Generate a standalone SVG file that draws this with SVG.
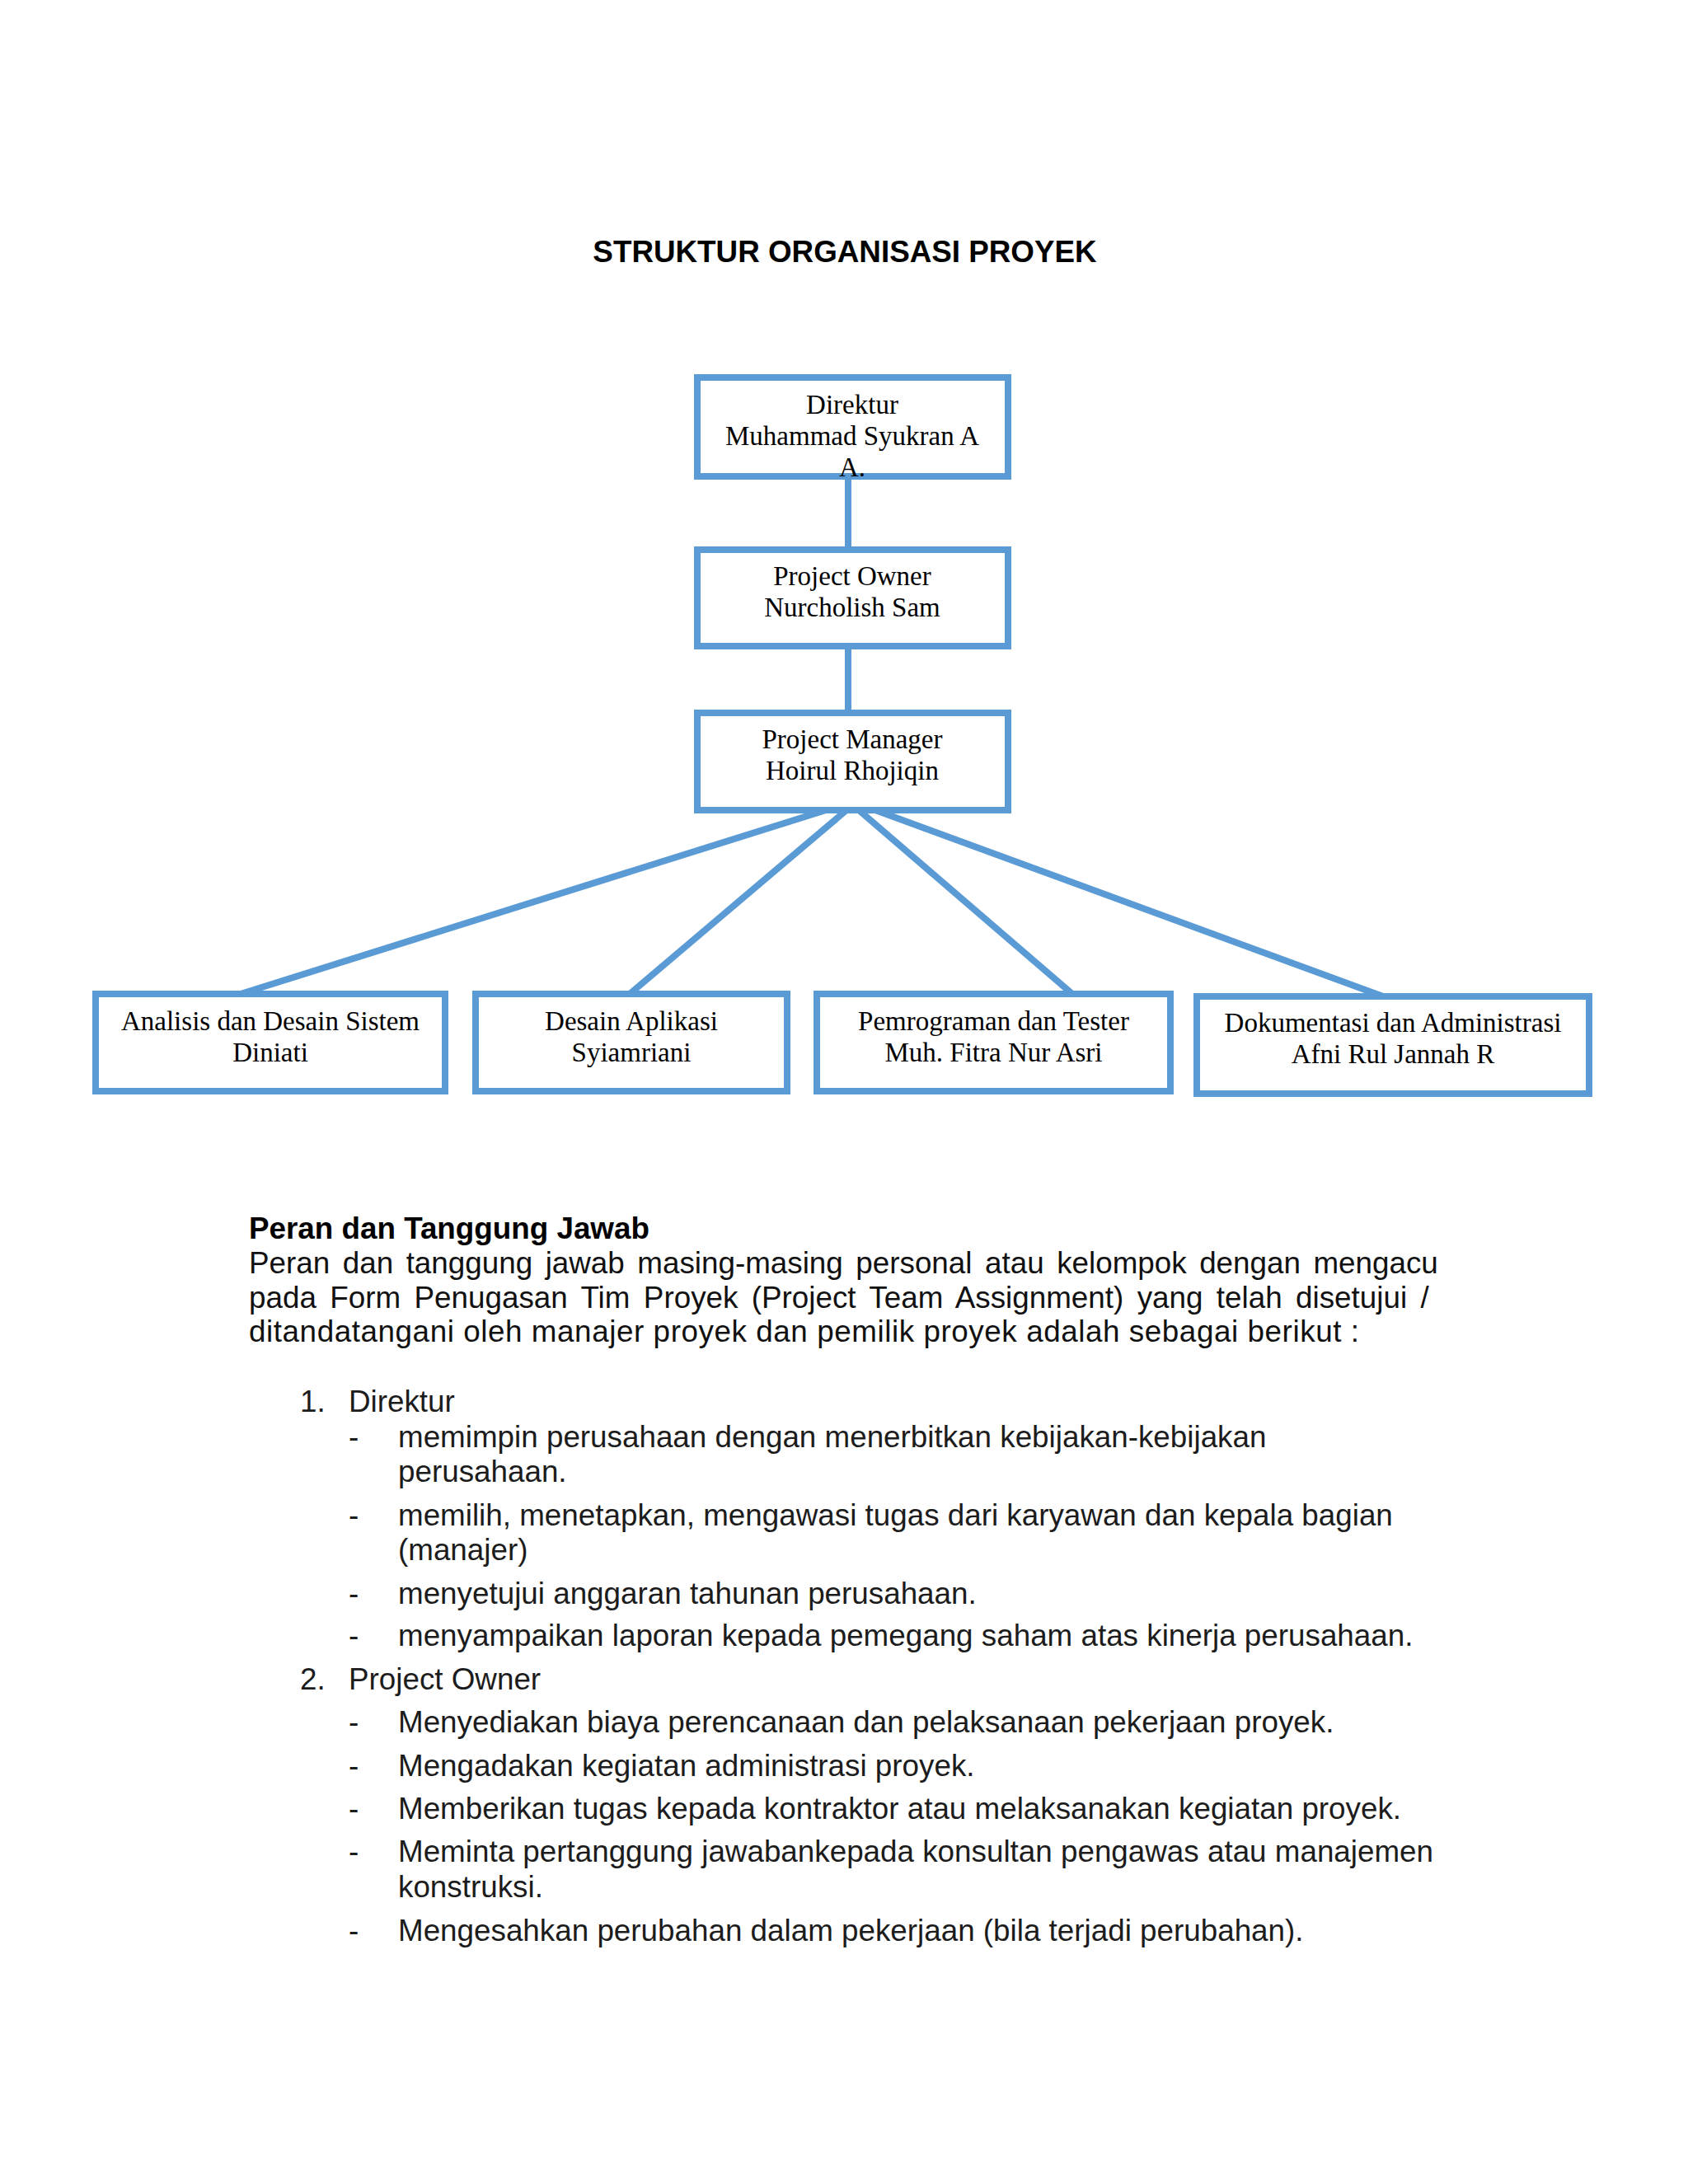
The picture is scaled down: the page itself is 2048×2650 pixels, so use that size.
<svg xmlns="http://www.w3.org/2000/svg" width="2048" height="2650" viewBox="0 0 2048 2650">
<style>
.box{fill:#ffffff;stroke:#5B9BD5;stroke-width:8}
.con{stroke:#5B9BD5;stroke-width:8;fill:none}
.bt{font-family:"Liberation Serif","Times New Roman",serif;font-size:33px;fill:#000;text-anchor:middle}
.title{font-family:"Liberation Sans",Arial,sans-serif;font-size:36.8px;font-weight:bold;fill:#000;text-anchor:middle}
.h{font-family:"Liberation Sans",Arial,sans-serif;font-size:36.8px;font-weight:bold;fill:#000}
.p{font-family:"Liberation Sans",Arial,sans-serif;font-size:36.8px;fill:#111}
.l{font-family:"Liberation Sans",Arial,sans-serif;font-size:36.8px;fill:#1c1c1c}
</style>
<rect x="0" y="0" width="2048" height="2650" fill="#ffffff"/>
<text class="title" x="1025" y="318">STRUKTUR ORGANISASI PROYEK</text>
<g id="connectors">
<line class="con" x1="1029" y1="578" x2="1029" y2="667"/>
<line class="con" x1="1029" y1="784" x2="1029" y2="865"/>
<line class="con" x1="1002" y1="983" x2="292" y2="1206"/>
<line class="con" x1="1027" y1="983" x2="764" y2="1206"/>
<line class="con" x1="1042" y1="983" x2="1301" y2="1206"/>
<line class="con" x1="1062" y1="983" x2="1678" y2="1209"/>
</g>
<g id="direktur">
<rect class="box" x="846" y="458" width="377" height="120"/>
<text class="bt" x="1034" y="502">Direktur</text>
<text class="bt" x="1034" y="540">Muhammad Syukran A</text>
<text class="bt" x="1034" y="578">A.</text>
</g>
<g id="project-owner">
<rect class="box" x="846" y="667" width="377" height="117"/>
<text class="bt" x="1034" y="710">Project Owner</text>
<text class="bt" x="1034" y="748">Nurcholish Sam</text>
</g>
<g id="project-manager">
<rect class="box" x="846" y="865" width="377" height="118"/>
<text class="bt" x="1034" y="908">Project Manager</text>
<text class="bt" x="1034" y="946">Hoirul Rhojiqin</text>
</g>
<g id="analisis">
<rect class="box" x="116" y="1206" width="424" height="118"/>
<text class="bt" x="328" y="1250">Analisis dan Desain Sistem</text>
<text class="bt" x="328" y="1288">Diniati</text>
</g>
<g id="desain">
<rect class="box" x="577" y="1206" width="378" height="118"/>
<text class="bt" x="766" y="1250">Desain Aplikasi</text>
<text class="bt" x="766" y="1288">Syiamriani</text>
</g>
<g id="pemrograman">
<rect class="box" x="991" y="1206" width="429" height="118"/>
<text class="bt" x="1205.5" y="1250">Pemrograman dan Tester</text>
<text class="bt" x="1205.5" y="1288">Muh. Fitra Nur Asri</text>
</g>
<g id="dokumentasi">
<rect class="box" x="1452" y="1209" width="476" height="118"/>
<text class="bt" x="1690" y="1252">Dokumentasi dan Administrasi</text>
<text class="bt" x="1690" y="1290">Afni Rul Jannah R</text>
</g>
<g id="text">
<text class="h" x="302" y="1503">Peran dan Tanggung Jawab</text>
<text class="p" x="302" y="1545" word-spacing="5.3">Peran dan tanggung jawab masing-masing personal atau kelompok dengan mengacu</text>
<text class="p" x="302" y="1587" word-spacing="6.2">pada Form Penugasan Tim Proyek (Project Team Assignment) yang telah disetujui /</text>
<text class="p" x="302" y="1628" textLength="1347" lengthAdjust="spacing">ditandatangani oleh manajer proyek dan pemilik proyek adalah sebagai berikut :</text>
<text class="l" x="364" y="1713">1.</text>
<text class="l" x="423" y="1713">Direktur</text>
<text class="l" x="423" y="1756">-</text>
<text class="l" x="483" y="1756">memimpin perusahaan dengan menerbitkan kebijakan-kebijakan</text>
<text class="l" x="483" y="1798">perusahaan.</text>
<text class="l" x="423" y="1851">-</text>
<text class="l" x="483" y="1851">memilih, menetapkan, mengawasi tugas dari karyawan dan kepala bagian</text>
<text class="l" x="483" y="1893">(manajer)</text>
<text class="l" x="423" y="1946">-</text>
<text class="l" x="483" y="1946">menyetujui anggaran tahunan perusahaan.</text>
<text class="l" x="423" y="1997">-</text>
<text class="l" x="483" y="1997">menyampaikan laporan kepada pemegang saham atas kinerja perusahaan.</text>
<text class="l" x="364" y="2050">2.</text>
<text class="l" x="423" y="2050">Project Owner</text>
<text class="l" x="423" y="2102">-</text>
<text class="l" x="483" y="2102">Menyediakan biaya perencanaan dan pelaksanaan pekerjaan proyek.</text>
<text class="l" x="423" y="2155">-</text>
<text class="l" x="483" y="2155">Mengadakan kegiatan administrasi proyek.</text>
<text class="l" x="423" y="2207">-</text>
<text class="l" x="483" y="2207">Memberikan tugas kepada kontraktor atau melaksanakan kegiatan proyek.</text>
<text class="l" x="423" y="2259">-</text>
<text class="l" x="483" y="2259">Meminta pertanggung jawabankepada konsultan pengawas atau manajemen</text>
<text class="l" x="483" y="2302">konstruksi.</text>
<text class="l" x="423" y="2355">-</text>
<text class="l" x="483" y="2355">Mengesahkan perubahan dalam pekerjaan (bila terjadi perubahan).</text>
</g>
</svg>
